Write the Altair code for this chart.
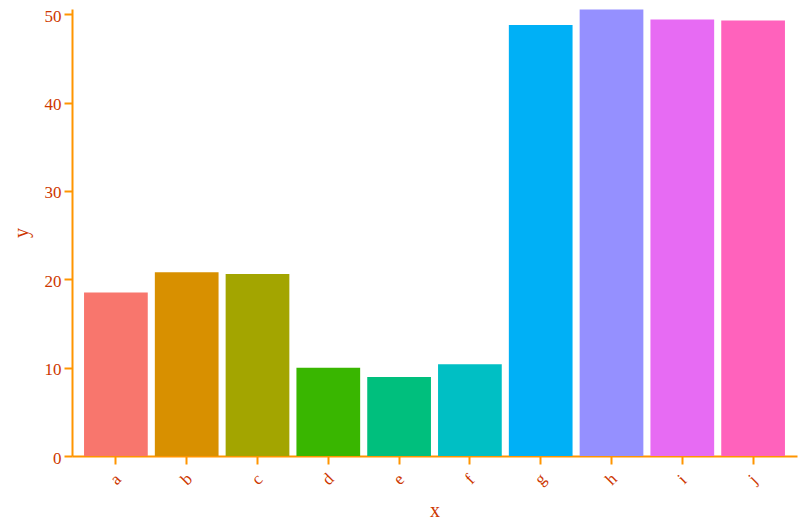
import altair as alt
import pandas as pd

categories = ["a", "b", "c", "d", "e", "f", "g", "h", "i", "j"]
values = [18.5, 20.8, 20.6, 10.0, 8.95, 10.4, 48.8, 50.55, 49.4, 49.3]
colors = ["#F8766D", "#D89000", "#A3A500", "#39B600", "#00BF7D",
          "#00BFC4", "#00B0F6", "#9590FF", "#E76BF3", "#FF62BC"]

df = pd.DataFrame({"x": categories, "y": values})

text_color = "#CD3700"
axis_color = "#FF9500"
font = "Times New Roman, Liberation Serif, serif"

chart = alt.Chart(df).mark_bar().encode(
    x=alt.X("x:N", title="x",
            scale=alt.Scale(paddingInner=0.1, paddingOuter=0.17),
            axis=alt.Axis(labelAngle=315, labelAlign="center", labelBaseline="middle",
                          labelPadding=15, titlePadding=13)),
    y=alt.Y("y:Q", title="y",
            scale=alt.Scale(domain=[0, 50.6], nice=False),
            axis=alt.Axis(values=[0, 10, 20, 30, 40, 50], grid=False, titlePadding=13,
                          labelPadding=3, labelOffset=2)),
    color=alt.Color("x:N", scale=alt.Scale(domain=categories, range=colors), legend=None),
).properties(
    width=725,
    height=447,
    autosize=alt.AutoSizeParams(type="none"),
    padding={"left": 64, "top": 1, "right": 3, "bottom": 70},
).configure_view(
    stroke=None
).configure_axis(
    domainColor=axis_color,
    domainWidth=2,
    tickColor=axis_color,
    tickWidth=2,
    tickSize=8,
    labelColor=text_color,
    titleColor=text_color,
    labelFont=font,
    titleFont=font,
    labelFontSize=17,
    titleFontSize=20,
    titleFontWeight="normal",
)

chart.save("out.html", embed_options={"renderer": "svg", "actions": False})
